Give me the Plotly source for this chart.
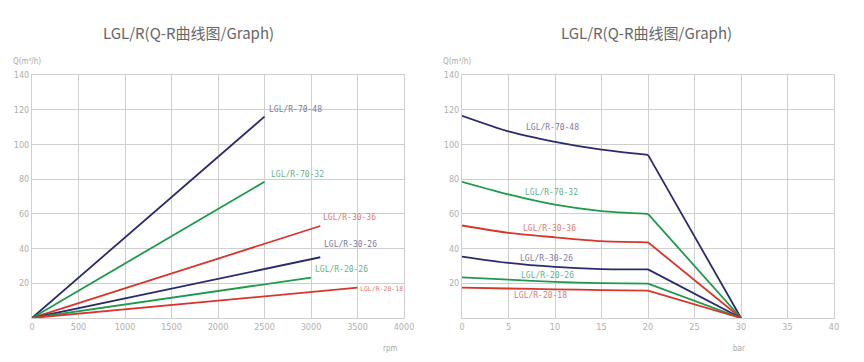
import plotly.graph_objects as go

# ---- data ----
series_names = ["LGL/R-70-48", "LGL/R-70-32", "LGL/R-30-36", "LGL/R-30-26", "LGL/R-20-26", "LGL/R-20-18"]
series_colors = ["#2b2a6e", "#1f9a4c", "#d8352b", "#2b2a6e", "#1f9a4c", "#d8352b"]
label_colors = ["#7d7b9c", "#5fb48a", "#e07a74", "#7d7b9c", "#5fb48a", "#e07a74"]

# Q vs rpm (left)
rpm_70_48 = [0, 2500]; q_rpm_70_48 = [0, 116]
rpm_70_32 = [0, 2500]; q_rpm_70_32 = [0, 78.5]
rpm_30_36 = [0, 3100]; q_rpm_30_36 = [0, 53]
rpm_30_26 = [0, 3100]; q_rpm_30_26 = [0, 35]
rpm_20_26 = [0, 3000]; q_rpm_20_26 = [0, 23.3]
rpm_20_18 = [0, 3500]; q_rpm_20_18 = [0, 17.5]

# Q vs bar (right)
bar_pts = [0, 5, 10, 15, 20, 30]
q_bar_70_48 = [116.5, 107.5, 101.5, 97, 94, 0]
q_bar_70_32 = [78.5, 71.2, 65.3, 61.6, 60, 0]
q_bar_30_36 = [53.3, 49, 46.5, 44.3, 43.6, 0]
q_bar_30_26 = [35.4, 31.7, 29.4, 28.2, 28, 0]
q_bar_20_26 = [23.4, 22.1, 20.8, 20.1, 19.8, 0]
q_bar_20_18 = [17.5, 17, 16.5, 16.1, 15.8, 0]

x_ticks_rpm = [0, 500, 1000, 1500, 2000, 2500, 3000, 3500, 4000]
x_ticks_bar = [0, 5, 10, 15, 20, 25, 30, 35, 40]
y_ticks = [20, 40, 60, 80, 100, 120, 140]
title_text = "LGL/R(Q-R曲线图/Graph)"

left_x = [rpm_70_48, rpm_70_32, rpm_30_36, rpm_30_26, rpm_20_26, rpm_20_18]
left_y = [q_rpm_70_48, q_rpm_70_32, q_rpm_30_36, q_rpm_30_26, q_rpm_20_26, q_rpm_20_18]
right_y = [q_bar_70_48, q_bar_70_32, q_bar_30_36, q_bar_30_26, q_bar_20_26, q_bar_20_18]

# page has an 8px body margin; figure sized to fill the rest of the window
OFF = 8
W, H = 864 - OFF, 362 - OFF


def fx(px):
    return (px - OFF) / W


def fy(py):
    return 1 - (py - OFF) / H


fig = go.Figure()
for i in range(6):
    fig.add_trace(go.Scatter(x=left_x[i], y=left_y[i], mode="lines", xaxis="x", yaxis="y",
                             line=dict(color=series_colors[i], width=1.8), showlegend=False))
for i in range(6):
    # curved part up to 20 bar, then straight drop to 30 bar
    fig.add_trace(go.Scatter(x=bar_pts[:5], y=right_y[i][:5], mode="lines", xaxis="x2", yaxis="y2",
                             line=dict(color=series_colors[i], width=1.8, shape="spline", smoothing=0.6),
                             showlegend=False))
    fig.add_trace(go.Scatter(x=bar_pts[4:], y=right_y[i][4:], mode="lines", xaxis="x2", yaxis="y2",
                             line=dict(color=series_colors[i], width=1.8), showlegend=False))

tickfont = dict(family="DejaVu Sans Condensed", size=9, color="#b0b0b0")
grid = "#cfcfcf"
yd = [fy(318), fy(75)]

common_x = dict(showgrid=True, gridcolor=grid, gridwidth=1, showline=True, linecolor=grid, mirror=True,
                zeroline=False, ticks="", tickfont=tickfont, automargin=False)
common_y = dict(range=[0, 140], tickvals=y_ticks, showgrid=True, gridcolor=grid, gridwidth=1,
                showline=True, linecolor=grid, mirror=True, zeroline=False, ticks="", tickfont=tickfont,
                automargin=False)

fig.update_layout(
    width=W, height=H, margin=dict(l=0, r=0, t=0, b=0, autoexpand=False),
    paper_bgcolor="white", plot_bgcolor="white",
    xaxis=dict(domain=[fx(32), fx(404)], range=[0, 4000], tickvals=x_ticks_rpm, anchor="y", **common_x),
    yaxis=dict(domain=yd, anchor="x", **common_y),
    xaxis2=dict(domain=[fx(462), fx(834)], range=[0, 40], tickvals=x_ticks_bar, anchor="y2", **common_x),
    yaxis2=dict(domain=yd, anchor="x2", **common_y),
)

ann = []
# titles
for cx in [188, 646]:
    ann.append(dict(text=title_text, x=fx(cx), y=fy(32), xref="paper", yref="paper",
                    xanchor="center", yanchor="middle", showarrow=False,
                    font=dict(family="Noto Sans CJK SC", size=15, color="#666666")))
# y axis labels
for lx in [11, 441]:
    ann.append(dict(text="Q(m³/h)", x=fx(lx), y=fy(61), xref="paper", yref="paper",
                    xanchor="left", yanchor="middle", showarrow=False,
                    font=dict(family="DejaVu Sans Condensed", size=8, color="#a8a8a8")))
# x axis labels
ann.append(dict(text="rpm", x=fx(390), y=fy(348), xref="paper", yref="paper",
                xanchor="center", yanchor="middle", showarrow=False,
                font=dict(family="DejaVu Sans Condensed", size=8, color="#a8a8a8")))
ann.append(dict(text="bar", x=fx(739), y=fy(348), xref="paper", yref="paper",
                xanchor="center", yanchor="middle", showarrow=False,
                font=dict(family="DejaVu Sans Condensed", size=8, color="#a8a8a8")))

left_pos = [(2527, 120.2), (2548, 82.8), (3108, 58.0), (3118, 42.5), (3022, 28.1), (3505, 16.6)]
right_pos = [(6.67, 109.9), (6.56, 72.4), (6.34, 51.7), (6.02, 34.4), (6.13, 24.6), (5.38, 13.1)]
for i in range(6):
    sz = 6.5 if i == 5 else 8
    ann.append(dict(text=series_names[i], x=left_pos[i][0], y=left_pos[i][1], xref="x", yref="y",
                    xanchor="left", yanchor="middle", showarrow=False,
                    font=dict(family="DejaVu Sans Mono", size=sz, color=label_colors[i])))
    ann.append(dict(text=series_names[i], x=right_pos[i][0], y=right_pos[i][1], xref="x2", yref="y2",
                    xanchor="left", yanchor="middle", showarrow=False,
                    font=dict(family="DejaVu Sans Mono", size=8, color=label_colors[i])))
fig.update_layout(annotations=ann)

fig.write_html("out.html")
